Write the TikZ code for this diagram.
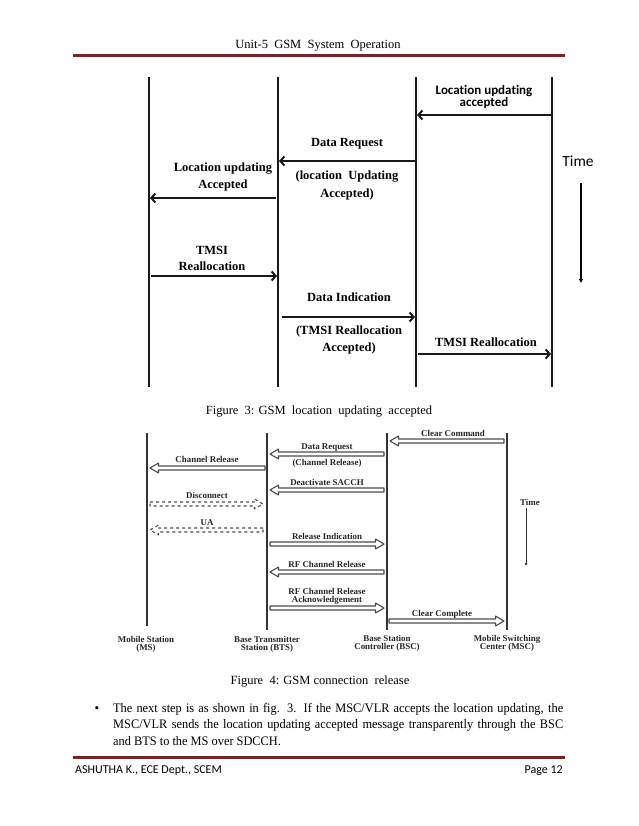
\documentclass[tikz,border=0pt]{standalone}
\usepackage{fontspec}
\setmainfont{Liberation Serif}
\newfontfamily\calibrifont[Ligatures=NoCommon]{Carlito}
\usetikzlibrary{arrows.meta}
\definecolor{rule}{RGB}{118,36,40}
\newcommand\hollowarrow[4][]{%
  \pgfmathsetmacro\hdir{(#3>#2)?1:-1}%
  \pgfmathsetmacro\hb{#3-\hdir*8.5}%
  \draw[harrow,#1] (#2,#4-2) -- (\hb,#4-2) -- (\hb,#4-5) -- (#3,#4) -- (\hb,#4+5) -- (\hb,#4+2) -- (#2,#4+2) -- cycle;%
}
\begin{document}
\begin{tikzpicture}[x=1pt,y=-1pt,
  life/.style={line width=2.6pt, black!90},
  msg/.style={line width=2pt, black!90, -{Straight Barb[length=4pt,width=9pt,line width=2pt]}},
  tb/.style={font=\fontsize{12.5}{14}\selectfont\bfseries, anchor=base, inner sep=0pt},
  sb/.style={font=\calibrifont\fontsize{13}{14}\selectfont\bfseries, anchor=base, inner sep=0pt},
  sm/.style={font=\fontsize{8.9}{9}\selectfont\bfseries, anchor=base, inner sep=0pt, text=black!85},
  life2/.style={line width=2pt, black!80},
  harrow/.style={line width=1.1pt, draw=black!70, fill=white, line join=round},
  plain/.style={anchor=base, inner sep=0pt},
]
\useasboundingbox (0,0) rectangle (638,826);
% header / footer
\node[plain, font=\fontsize{12.5}{14}\selectfont] (hdr) at (318,49) {Unit-5\ \ GSM\ \ System\ \ Operation};
\draw[rule, line width=3pt] (73,56) -- (565,56);
\draw[rule, line width=3pt] (73,757) -- (565,757);
\node[plain, anchor=base west, font=\calibrifont\fontsize{12}{14}\selectfont] (ftl) at (75,773) {ASHUTHA K., ECE Dept., SCEM};
\node[plain, anchor=base east, font=\calibrifont\fontsize{12}{14}\selectfont] (ftr) at (563,773) {Page 12};

% ===== Figure 3 =====
\foreach \n/\x in {ms/149, bts/278, bsc/416, msc/552}{
  \coordinate (\n t) at (\x,77);
  \coordinate (\n b) at (\x,387);
  \draw[life] (\n t) -- (\n b);
}
% messages
\coordinate (m1s) at (552,115); \coordinate (m1e) at (417,115);
\draw[msg] (m1s) -- (m1e);
\node[sb] (l1a) at (484,95) {Location updating};
\node[sb] (l1b) at (484,107) {accepted};

\coordinate (m2s) at (416,161); \coordinate (m2e) at (279,161);
\draw[msg] (m2s) -- (m2e);
\node[tb] (l2a) at (347,147) {Data Request};
\node[tb] (l2b) at (347,180) {(location\ \ Updating};
\node[tb] (l2c) at (347,198) {Accepted)};

\coordinate (m3s) at (276,198); \coordinate (m3e) at (150,198);
\draw[msg] (m3s) -- (m3e);
\node[tb] (l3a) at (223,172) {Location updating};
\node[tb] (l3b) at (223,189) {Accepted};

\coordinate (m4s) at (151,276); \coordinate (m4e) at (277,276);
\draw[msg] (m4s) -- (m4e);
\node[tb] (l4a) at (212,254) {TMSI};
\node[tb] (l4b) at (212,270) {Reallocation};

\coordinate (m5s) at (282,317); \coordinate (m5e) at (415,317);
\draw[msg] (m5s) -- (m5e);
\node[tb] (l5a) at (349,301) {Data Indication};
\node[tb] (l5b) at (349,334) {(TMSI Reallocation};
\node[tb] (l5c) at (349,351) {Accepted)};

\coordinate (m6s) at (418,354); \coordinate (m6e) at (551,354);
\draw[msg] (m6s) -- (m6e);
\node[tb] (l6a) at (486,346) {TMSI Reallocation};

\node[plain, font=\calibrifont\fontsize{15.5}{17}\selectfont] (time1) at (578,167) {Time};
\coordinate (t1s) at (581,183); \coordinate (t1e) at (581,283);
\draw[line width=2pt, -{Latex[length=4pt,width=5pt]}] (t1s) -- (t1e);

\node[plain, font=\fontsize{12.5}{14}\selectfont] (cap3) at (319,414) {Figure\ \ 3: GSM\ \ location\ \ updating\ \ accepted};

% ===== Figure 4 =====
\foreach \n/\x/\b in {ms2/147/626, bts2/267/630, bsc2/387/630, msc2/507/630}{
  \coordinate (\n t) at (\x,433);
  \coordinate (\n b) at (\x,\b);
  \draw[life2] (\n t) -- (\n b);
}
\hollowarrow{504}{390}{441}
\node[sm] (c1) at (453,436) {Clear Command};
\hollowarrow{384}{270}{454}
\node[sm] (c2) at (327,449) {Data Request};
\node[sm] (c2b) at (327,465) {(Channel Release)};
\hollowarrow{265}{150}{468}
\node[sm] (c3) at (207,462) {Channel Release};
\hollowarrow{384}{270}{490}
\node[sm] (c4) at (327,485) {Deactivate SACCH};
\hollowarrow[dashed]{150}{263}{504}
\node[sm] (c5) at (207,498.5) {Disconnect};
\hollowarrow[dashed]{263}{150}{530}
\node[sm] (c6) at (207,525.5) {UA};
\hollowarrow{270}{384}{544}
\node[sm] (c7) at (327,539.5) {Release Indication};
\hollowarrow{384}{270}{572}
\node[sm] (c8) at (327,567) {RF Channel Release};
\hollowarrow{270}{384}{608}
\node[sm] (c9a) at (327,594) {RF Channel Release};
\node[sm] (c9b) at (327,602.5) {Acknowledgement};
\hollowarrow{389}{504}{621}
\node[sm] (c10) at (442,616) {Clear Complete};

\node[sm] (time2) at (530,505) {Time};
\coordinate (t2s) at (526,508); \coordinate (t2e) at (526,566);
\draw[line width=1pt, black!80, -{Latex[length=3pt,width=3pt]}] (t2s) -- (t2e);

\node[sm] (n1a) at (146,642) {Mobile Station};
\node[sm] (n1b) at (146,650) {(MS)};
\node[sm] (n2a) at (267,642) {Base Transmitter};
\node[sm] (n2b) at (267,650) {Station (BTS)};
\node[sm] (n3a) at (387,641) {Base Station};
\node[sm] (n3b) at (387,649) {Controller (BSC)};
\node[sm] (n4a) at (507,641) {Mobile Switching};
\node[sm] (n4b) at (507,649) {Center (MSC)};

\node[plain, font=\fontsize{12.5}{14}\selectfont] (cap4) at (320,684) {Figure\ \ 4: GSM\ connection\ \ release};

% ===== bullet text =====
\node[plain, font=\fontsize{13}{14}\selectfont] (bul) at (97,712) {\textbullet};
\node[plain, anchor=base west, font=\fontsize{13}{14}\selectfont] (p1) at (113,712) {\scalebox{0.95}[1]{\makebox[473.7pt][s]{The next step is as shown in fig. 3. If the MSC/VLR accepts the location updating, the}}};
\node[plain, anchor=base west, font=\fontsize{13}{14}\selectfont] (p2) at (113,728.5) {\scalebox{0.95}[1]{\makebox[473.7pt][s]{MSC/VLR sends the location updating accepted message transparently through the BSC}}};
\node[plain, anchor=base west, font=\fontsize{13}{14}\selectfont] (p3) at (113,745) {\scalebox{0.95}[1]{and BTS to the MS over SDCCH.}};
\end{tikzpicture}
\end{document}
